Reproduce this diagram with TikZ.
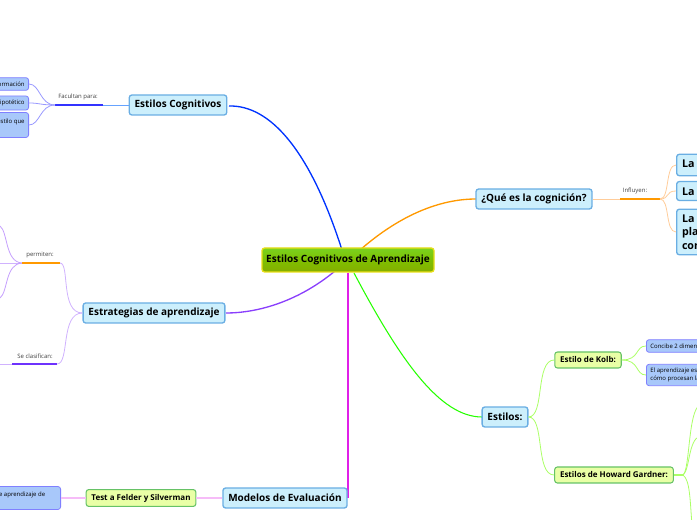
\documentclass[tikz,border=0pt]{standalone}
\usepackage{fontspec}
\setmainfont{Open Sans}
\definecolor{vio}{HTML}{8A3FFC}
\definecolor{mag}{HTML}{E020E8}
\definecolor{leafc}{HTML}{A8C8FA}
\begin{document}
\begin{tikzpicture}[x=0.75pt,y=-0.75pt,
 main/.style={draw=yellow!90!black,line width=1pt,rounded corners=2pt,top color=olive!50!green!70,bottom color=olive!80!green!80,font=\bfseries\fontsize{7.5}{9}\selectfont,minimum height=18pt,inner xsep=3pt},
 topic/.style={draw=cyan!70!blue!60,line width=1pt,rounded corners=2pt,fill=cyan!20,font=\bfseries\fontsize{7.5}{9}\selectfont,minimum height=15pt,inner xsep=4pt},
 sub/.style={draw=green!60!black!60,line width=0.8pt,rounded corners=2pt,fill=lime!35,font=\bfseries\fontsize{6}{7}\selectfont,minimum height=12pt,inner xsep=4pt},
 leaf/.style={draw=blue!50,line width=0.6pt,rounded corners=2pt,fill=leafc,font=\fontsize{4.5}{5.5}\selectfont,align=left,inner sep=3pt},
 big/.style={draw=cyan!70!blue!60,line width=1pt,rounded corners=2pt,fill=cyan!20,font=\bfseries\fontsize{8}{10}\selectfont,align=left,inner sep=4pt},
 lbl/.style={font=\fontsize{4.5}{5}\selectfont,text=black!75}]
\useasboundingbox (0,0) rectangle (697,520);
\clip (0,0) rectangle (697,520);
% connectors
\draw[blue!80!cyan,line width=1pt] (342,250) .. controls (310,150) and (270,105) .. (229,106);
\draw[orange!80!yellow,line width=1pt] (360,250) .. controls (400,215) and (440,199) .. (476,199);
\draw[vio,line width=1pt] (335,271) .. controls (300,300) and (260,313) .. (226,313);
\draw[mag,line width=1pt] (348,273) -- (348,497) -- (347,497);
\draw[green!80!lime,line width=0.8pt] (354,273) .. controls (400,360) and (440,417) .. (482,417);
% center
\node[main,minimum width=172*0.75pt] (c) at (348,260) {Estilos Cognitivos de Aprendizaje};
% estilos cognitivos
\node[topic] (ec) at (178,105) {Estilos Cognitivos};
\coordinate (ecj) at (55,105);
\draw[blue!60!cyan!60,line width=0.6pt] (ec.west) -- (103,105);
\draw[blue!80,line width=1.2pt] (103,105) -- (ecj);
\node[lbl] (fac) at (78,97) {Facultan para:};
\node[leaf,anchor=east] (e1) at (29,84) {Procesar la información};
\node[leaf,anchor=east] (e2) at (29,103) {Razonamiento hipotético};
\node[leaf,anchor=east,minimum height=25*0.75pt] (e3) at (29,125) {Adoptar un estilo que\\ \ };
\foreach \n in {e1,e2,e3}{\draw[blue!40,line width=0.6pt] (ecj) .. controls (40,105) and (40,0|-\n.east) .. (\n.east);}
% cognicion
\node[topic] (q) at (534,199) {¿Qué es la cognición?};
\coordinate (qj) at (660,199);
\draw[orange!40,line width=0.6pt] (q.east) -- (620,199);
\draw[orange!80!yellow,line width=1.2pt] (620,199) -- (qj);
\node[lbl] (inf) at (635,191) {Influyen:};
\node[big,anchor=west] (q1) at (676,165) {La percepción};
\node[big,anchor=west] (q2) at (676,191) {La atención};
\node[big,anchor=west] (q3) at (676,232) {La memoria,\\planificación y\\control};
\foreach \n in {q1,q2,q3}{\draw[orange!40,line width=0.6pt] (qj) .. controls (670,199) and (665,0|-\n.west) .. (\n.west);}
% estrategias
\node[topic] (ea) at (154,313) {Estrategias de aprendizaje};
\coordinate (pj) at (22,263);
\coordinate (sj) at (12,364);
\draw[vio!40,line width=0.6pt] (ea.west) .. controls (60,313) and (70,263) .. (60,263);
\draw[vio!40,line width=0.6pt] (ea.west) .. controls (60,313) and (70,364) .. (57,364);
\draw[orange!80!yellow,line width=1.2pt] (60,263) -- (pj);
\draw[vio!80!blue,line width=1.2pt] (57,364) -- (sj);
\node[lbl] (perm) at (40,255) {permiten:};
\node[lbl] (scl) at (35,356) {Se clasifican:};
\draw[vio!40,line width=0.6pt] (pj) -- (0,263);
\draw[vio!50,line width=0.6pt] (pj) .. controls (5,262) and (8,232) .. (0,226);
\draw[vio!50,line width=0.6pt] (pj) .. controls (5,264) and (8,292) .. (0,298);
\draw[vio!40,line width=0.6pt] (sj) -- (0,364);
% estilos
\node[topic] (es) at (505,417) {Estilos:};
\node[sub] (k) at (588,360) {Estilo de Kolb:};
\node[sub] (g) at (614,475) {Estilos de Howard Gardner:};
\draw[green!40!lime!60,line width=0.6pt] (es.east) .. controls (545,417) and (535,360) .. (k.west);
\draw[green!40!lime!60,line width=0.6pt] (es.east) .. controls (545,417) and (535,475) .. (g.west);
\node[leaf,anchor=west] (k1) at (646,346) {Concibe 2 dimensiones};
\node[leaf,anchor=west] (k2) at (646,375) {El aprendizaje es\\cómo procesan la};
\foreach \n in {k1,k2}{\draw[green!40!lime!60,line width=0.6pt] (k.east) .. controls (640,360) and (635,0|-\n.west) .. (\n.west);}
\coordinate (gj) at (683,475);
\draw[green!40!lime!60,line width=1pt] (g.east) -- (gj);
\draw[green!40!lime!60,line width=0.6pt] (gj) .. controls (690,470) and (688,410) .. (700,405);
\draw[green!40!lime!60,line width=0.6pt] (gj) .. controls (690,470) and (688,440) .. (700,436);
\draw[green!40!lime!60,line width=0.6pt] (gj) .. controls (690,480) and (690,500) .. (692,525);
% modelos
\node[topic] (m) at (285,498) {Modelos de Evaluación};
\node[sub] (t) at (141,498) {Test a Felder y Silverman};
\node[leaf,anchor=east,minimum height=23*0.75pt,minimum width=100*0.75pt] (t1) at (61,498) {Estilos de aprendizaje de\\ \ };
\draw[mag!30,line width=0.8pt] (m.west) -- (t.east);
\draw[mag!30,line width=0.8pt] (t.west) -- (t1.east);
\end{tikzpicture}
\end{document}
